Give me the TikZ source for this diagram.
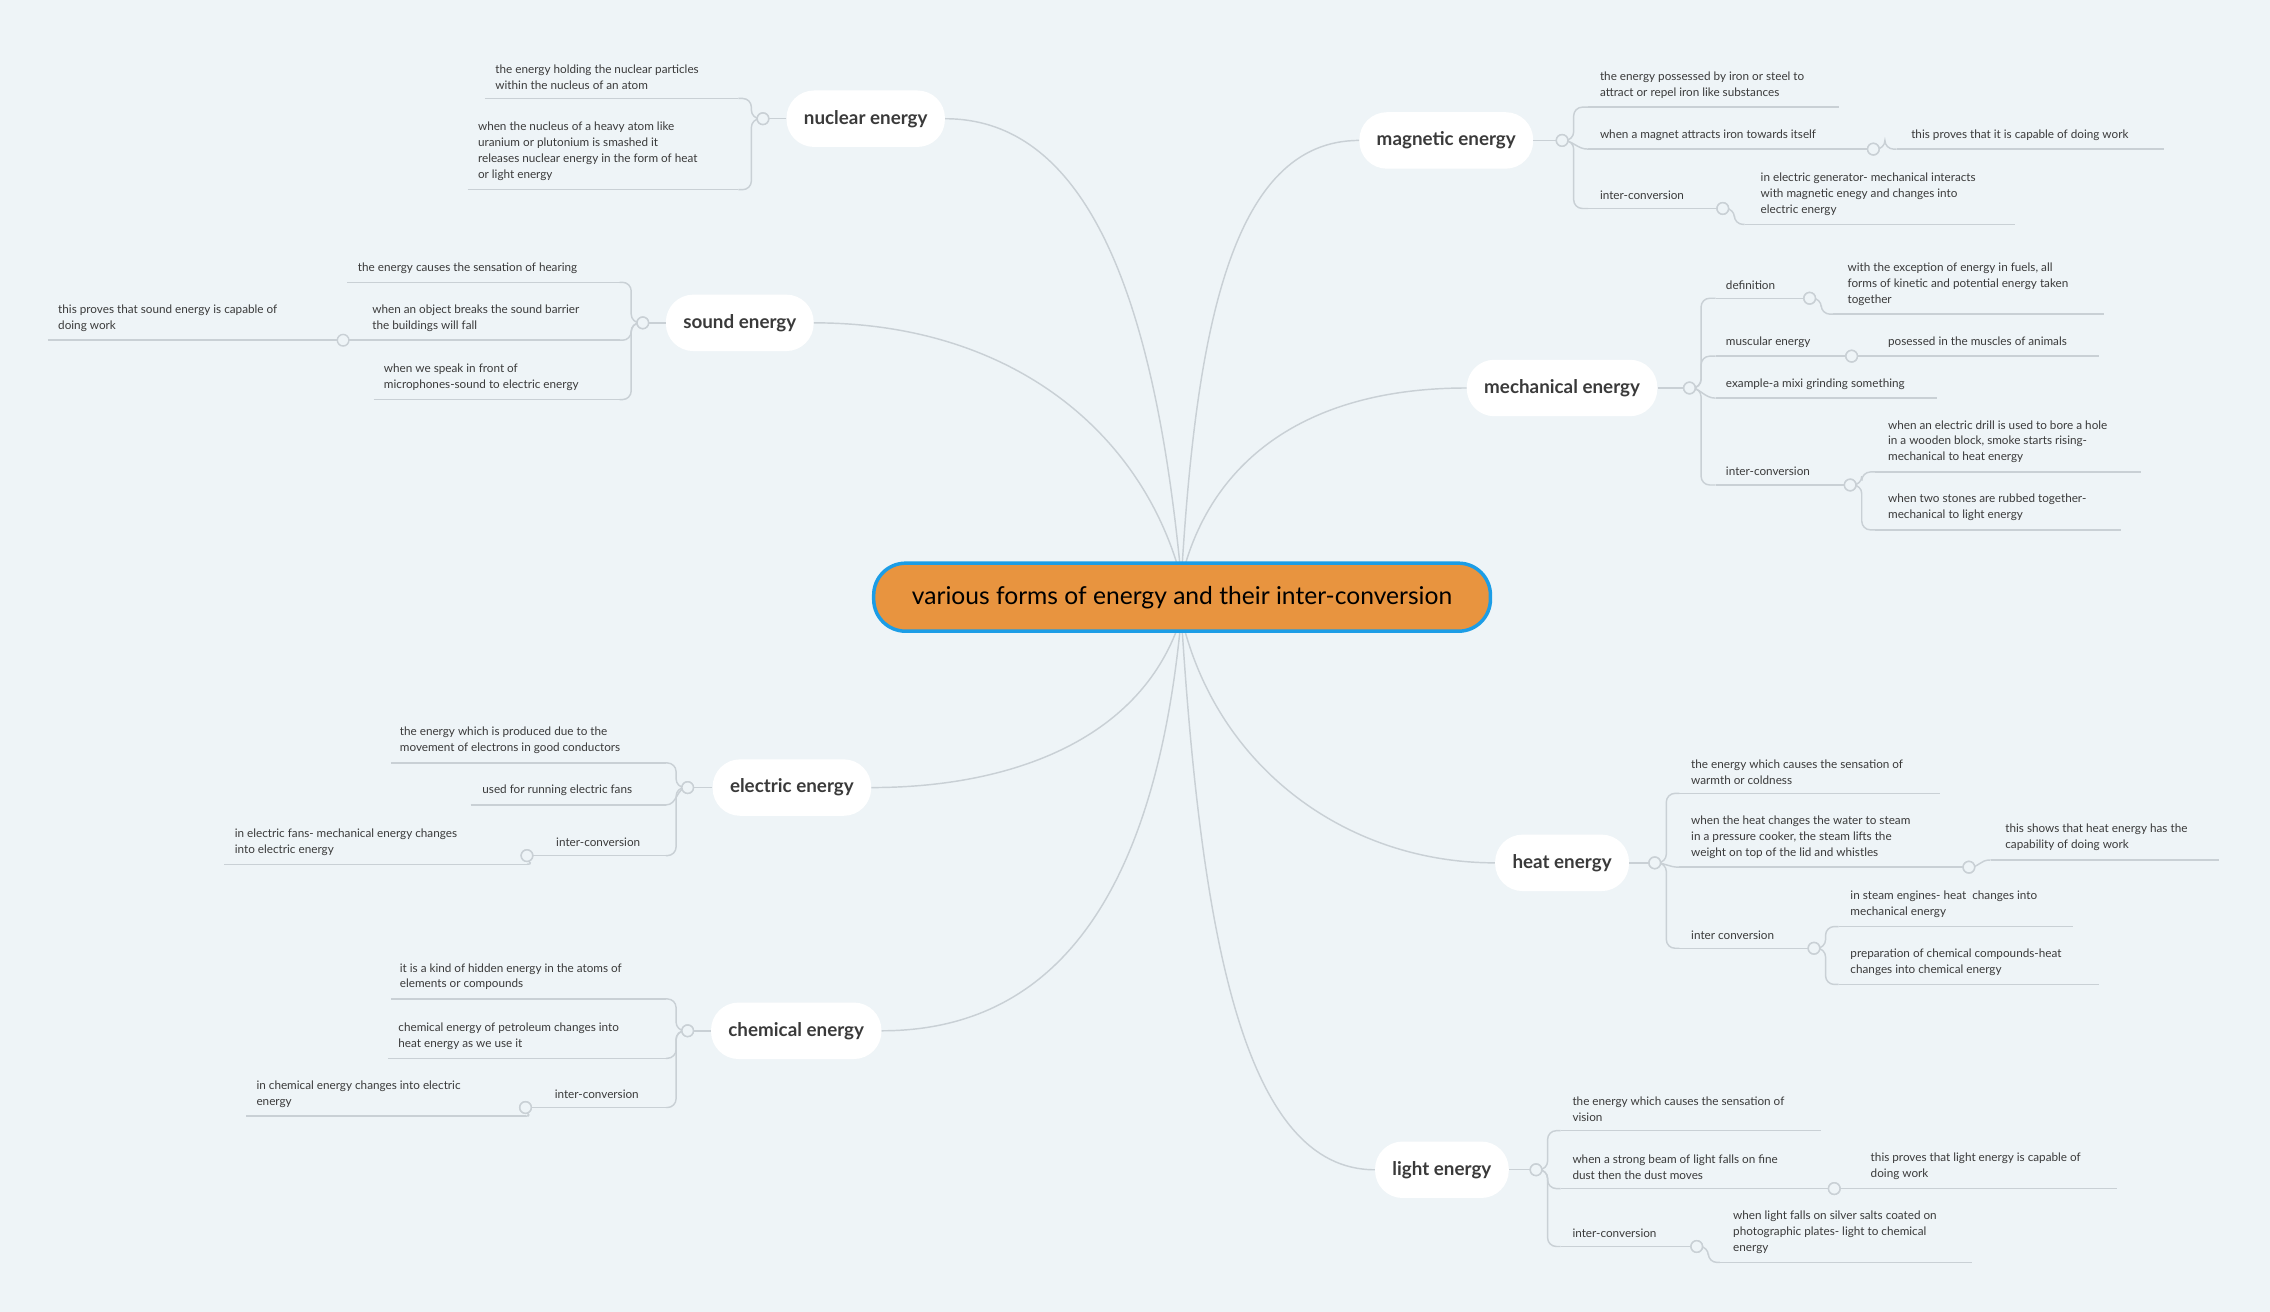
\documentclass[tikz,border=0pt]{standalone}
\usepackage{fontspec}
\setmainfont{Lato}
\definecolor{bg}{HTML}{EEF4F7}
\definecolor{lnc}{HTML}{C9D0D5}
\definecolor{tx}{HTML}{3A3A3A}
\definecolor{org}{HTML}{E8943F}
\definecolor{blu}{HTML}{1C9DE6}
\tikzset{
 ln/.style={draw=lnc,line width=1pt},
 lt/.style={font=\fontsize{8.1}{11}\selectfont,text=tx,align=left,inner xsep=0pt,inner ysep=6pt},
 br/.style={fill=white,rounded corners=19pt,minimum height=39pt,inner xsep=12pt,font=\fontsize{13}{14}\selectfont\bfseries,text=tx},
 dot/.style={circle,draw=lnc,fill=bg,line width=1pt,inner sep=0pt,minimum size=8pt},
 hub/.style={fill=org,draw=blu,line width=2.4pt,rounded corners=22pt,minimum width=426pt,minimum height=47pt,font=\fontsize{17}{18}\selectfont,text=black},
 bc/.style={ln,rounded corners=6pt}
}
% name, line x1, line x2, line y, text x, text
\newcommand\leaf[6]{%
 \coordinate (#1s) at (#2,#4); \coordinate (#1e) at (#3,#4);
 \draw[ln] (#1s) -- (#1e);
 \node[lt,anchor=south west] (#1) at (#5,#4) {#6};}
\newcommand\rcon[2]{\draw[bc] (#1.center) -- ++(8,0) |- (#2);}
\newcommand\lcon[2]{\draw[bc] (#1.center) -- ++(-8,0) |- (#2);}
\newcommand\rcs[2]{\draw[ln] (#1.center) .. controls +(8,0) and +(-8,0) .. (#2);}
\newcommand\lcs[2]{\draw[ln] (#1.center) .. controls +(-8,0) and +(8,0) .. (#2);}
\begin{document}
\begin{tikzpicture}[x=1pt,y=-1pt]
\fill[bg] (0,0) rectangle (1568,906);
\useasboundingbox (0,0) rectangle (1568,906);
\coordinate (ht) at (816,400); \coordinate (hb) at (816,426);
% branches
\node[br] (mag) at (999,97) {magnetic energy};
\node[br] (mec) at (1079,268) {mechanical energy};
\node[br] (hea) at (1079,596) {heat energy};
\node[br] (lig) at (996,808) {light energy};
\node[br] (nuc) at (598,82) {nuclear energy};
\node[br] (sou) at (511,223) {sound energy};
\node[br] (ele) at (547,544) {electric energy};
\node[br] (che) at (550,712) {chemical energy};
\draw[ln] (ht) .. controls (826,230) and (850,97) .. (mag.west);
\draw[ln] (ht) .. controls (835,320) and (900,268) .. (mec.west);
\draw[ln] (hb) .. controls (840,530) and (930,596) .. (hea.west);
\draw[ln] (hb) .. controls (830,650) and (860,808) .. (lig.west);
\draw[ln] (ht) .. controls (800,230) and (760,82) .. (nuc.east);
\draw[ln] (ht) .. controls (790,300) and (700,223) .. (sou.east);
\draw[ln] (hb) .. controls (790,510) and (700,544) .. (ele.east);
\draw[ln] (hb) .. controls (800,600) and (740,712) .. (che.east);
\node[hub] (hub) at (816.5,412.5) {various forms of energy and their inter-conversion};
% ---------- magnetic
\draw[ln] (mag.east) -- (1079,97);
\leaf{m1}{1097}{1270}{74}{1105}{the energy possessed by iron or steel to\\attract or repel iron like substances}
\leaf{m2}{1097}{1294}{103}{1105}{when a magnet attracts iron towards itself}
\leaf{m21}{1310}{1495}{103}{1320}{this proves that it is capable of doing work}
\leaf{m3}{1097}{1190}{144}{1105}{inter-conversion}
\leaf{m31}{1205}{1392}{155}{1216}{in electric generator- mechanical interacts\\with magnetic enegy and changes into\\electric energy}
\node[dot] (mc) at (1079,97) {};
\rcon{mc}{m1s}\rcs{mc}{m2s}\rcon{mc}{m3s}
\node[dot] (m2c) at (m2e) {}; \rcon{m2c}{m21s}
\node[dot] (m3c) at (m3e) {}; \rcon{m3c}{m31s}
\node[dot] at (mc) {};\node[dot] at (m2c) {};\node[dot] at (m3c) {};
% ---------- mechanical
\draw[ln] (mec.east) -- (1167,268);
\leaf{k1}{1185}{1250}{206}{1192}{definition}
\leaf{k11}{1266}{1453}{217}{1276}{with the exception of energy in fuels, all\\forms of kinetic and potential energy taken\\together}
\leaf{k2}{1185}{1279}{246}{1192}{muscular energy}
\leaf{k21}{1295}{1450}{246}{1304}{posessed in the muscles of animals}
\leaf{k3}{1185}{1338}{275}{1192}{example-a mixi grinding something}
\leaf{k4}{1185}{1278}{335}{1192}{inter-conversion}
\leaf{k41}{1295}{1479}{326}{1304}{when an electric drill is used to bore a hole\\in a wooden block, smoke starts rising-\\mechanical to heat energy}
\leaf{k42}{1295}{1465}{366}{1304}{when two stones are rubbed together-\\mechanical to light energy}
\node[dot] (kc) at (1167,268) {};
\rcon{kc}{k1s}\rcon{kc}{k2s}\rcs{kc}{k3s}\rcon{kc}{k4s}
\node[dot] (k1c) at (k1e) {}; \rcon{k1c}{k11s}
\node[dot] (k2c) at (k2e) {}; \draw[ln] (k2c) -- (k21s);
\node[dot] (k4c) at (k4e) {}; \rcon{k4c}{k41s}\rcon{k4c}{k42s}
\node[dot] at (kc) {};\node[dot] at (k1c) {};\node[dot] at (k2c) {};\node[dot] at (k4c) {};
% ---------- heat
\draw[ln] (hea.east) -- (1143,596);
\leaf{h1}{1160}{1340}{548}{1168}{the energy which causes the sensation of\\warmth or coldness}
\leaf{h2}{1160}{1360}{599}{1168}{when the heat changes the water to steam\\in a pressure cooker, the steam lifts the\\weight on top of the lid and whistles}
\leaf{h21}{1375}{1533}{594}{1385}{this shows that heat energy has the\\capability of doing work}
\leaf{h3}{1160}{1253}{655}{1168}{inter conversion}
\leaf{h31}{1270}{1432}{640}{1278}{in steam engines- heat\ \ changes into\\mechanical energy}
\leaf{h32}{1270}{1450}{680}{1278}{preparation of chemical compounds-heat\\changes into chemical energy}
\node[dot] (hc) at (1143,596) {};
\rcon{hc}{h1s}\rcs{hc}{h2s}\rcon{hc}{h3s}
\node[dot] (h2c) at (h2e) {}; \rcs{h2c}{h21s}
\node[dot] (h3c) at (h3e) {}; \rcon{h3c}{h31s}\rcon{h3c}{h32s}
\node[dot] at (hc) {};\node[dot] at (h2c) {};\node[dot] at (h3c) {};
% ---------- light
\draw[ln] (lig.east) -- (1061,808);
\leaf{l1}{1078}{1258}{781}{1086}{the energy which causes the sensation of\\vision}
\leaf{l2}{1078}{1267}{821}{1086}{when a strong beam of light falls on fine\\dust then the dust moves}
\leaf{l21}{1282}{1462}{821}{1292}{this proves that light energy is capable of\\doing work}
\leaf{l3}{1078}{1172}{861}{1086}{inter-conversion}
\leaf{l31}{1188}{1362}{872}{1197}{when light falls on silver salts coated on\\photographic plates- light to chemical\\energy}
\node[dot] (lc) at (1061,808) {};
\rcon{lc}{l1s}\rcon{lc}{l2s}\rcon{lc}{l3s}
\node[dot] (l2c) at (l2e) {}; \draw[ln] (l2c) -- (l21s);
\node[dot] (l3c) at (l3e) {}; \rcon{l3c}{l31s}
\node[dot] at (lc) {};\node[dot] at (l2c) {};\node[dot] at (l3c) {};
% ---------- nuclear
\draw[ln] (nuc.west) -- (527,82);
\leaf{n1}{335}{510}{68}{342}{the energy holding the nuclear particles\\within the nucleus of an atom}
\leaf{n2}{323}{510}{131}{330}{when the nucleus of a heavy atom like\\uranium or plutonium is smashed it\\releases nuclear energy in the form of heat\\or light energy}
\node[dot] (nc) at (527,82) {};
\lcon{nc}{n1e}\lcon{nc}{n2e}
\node[dot] at (nc) {};
% ---------- sound
\draw[ln] (sou.west) -- (444,223);
\leaf{s1}{240}{428}{195}{247}{the energy causes the sensation of hearing}
\leaf{s2}{237}{428}{235}{257}{when an object breaks the sound barrier\\the buildings will fall}
\leaf{s21}{33}{237}{235}{40}{this proves that sound energy is capable of\\doing work}
\leaf{s3}{258}{428}{276}{265}{when we speak in front of\\microphones-sound to electric energy}
\node[dot] (sc) at (444,223) {};
\lcon{sc}{s1e}\lcon{sc}{s2e}\lcon{sc}{s3e}
\node[dot] (s2c) at (s2s) {};
\node[dot] at (sc) {};
% ---------- electric
\draw[ln] (ele.west) -- (475,544);
\leaf{e1}{270}{460}{527}{276}{the energy which is produced due to the\\movement of electrons in good conductors}
\leaf{e2}{325}{460}{556}{333}{used for running electric fans}
\leaf{e3}{364}{460}{591}{384}{inter-conversion}
\leaf{e31}{155}{364}{597}{162}{in electric fans- mechanical energy changes\\into electric energy}
\node[dot] (ec) at (475,544) {};
\lcon{ec}{e1e}\lcs{ec}{e2e}\lcon{ec}{e3e}
\node[dot] (e3c) at (e3s) {}; \lcs{e3c}{e31e}
\node[dot] at (ec) {};\node[dot] at (e3c) {};
% ---------- chemical
\draw[ln] (che.west) -- (475,712);
\leaf{c1}{270}{460}{690}{276}{it is a kind of hidden energy in the atoms of\\elements or compounds}
\leaf{c2}{268}{460}{731}{275}{chemical energy of petroleum changes into\\heat energy as we use it}
\leaf{c3}{363}{460}{765}{383}{inter-conversion}
\leaf{c31}{170}{363}{771}{177}{in chemical energy changes into electric\\energy}
\node[dot] (cc) at (475,712) {};
\lcon{cc}{c1e}\lcon{cc}{c2e}\lcon{cc}{c3e}
\node[dot] (c3c) at (c3s) {}; \lcs{c3c}{c31e}
\node[dot] at (cc) {};\node[dot] at (c3c) {};
\end{tikzpicture}
\end{document}
